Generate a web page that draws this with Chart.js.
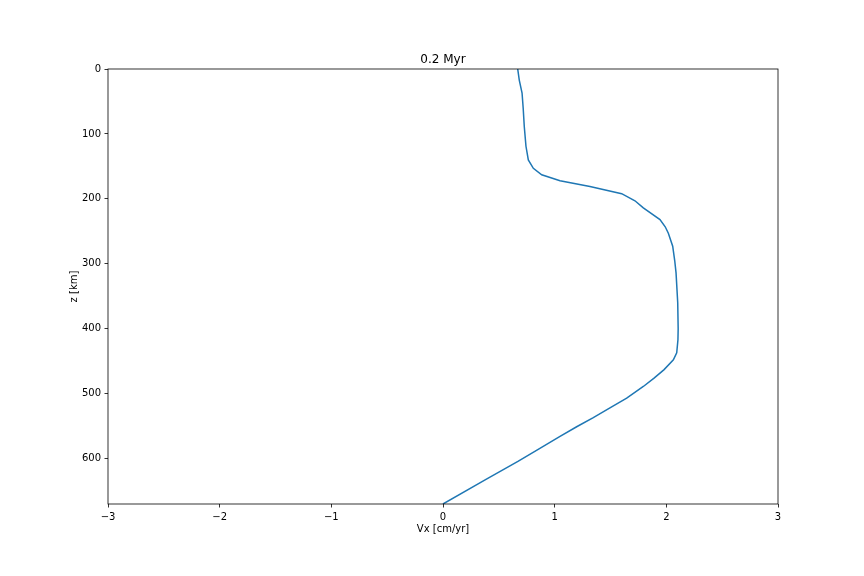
<!DOCTYPE html>
<html>
<head>
<meta charset="utf-8">
<script src="https://cdn.jsdelivr.net/npm/chart.js@4"></script>
<style>
  html, body { margin: 0; padding: 0; background: #fff; }
  #wrap { width: 864px; height: 576px; }
</style>
</head>
<body>
<div id="wrap"><canvas id="Chart" width="864" height="576"></canvas></div>
<script>
// depth profile of horizontal velocity
const depthKm = [0, 17, 37, 60, 89, 119, 140, 153, 163, 172, 181, 192, 203, 214, 232, 243,
  253, 273, 295, 314, 360, 400, 417, 437, 448, 463, 476, 489, 507, 522, 537, 551, 566, 585,
  604, 632, 670];
const vxCmYr = [0.669, 0.683, 0.708, 0.718, 0.728, 0.743, 0.764, 0.809, 0.884, 1.048, 1.316,
  1.600, 1.719, 1.794, 1.943, 1.990, 2.018, 2.057, 2.075, 2.087, 2.102, 2.106, 2.104, 2.093,
  2.063, 1.980, 1.890, 1.794, 1.645, 1.495, 1.346, 1.197, 1.048, 0.860, 0.675, 0.385, 0.0];
const xTicks = [-3, -2, -1, 0, 1, 2, 3];
const yTicks = [0, 100, 200, 300, 400, 500, 600];
const titleText = '0.2 Myr';

const ctx = document.getElementById('Chart').getContext('2d');
Chart.defaults.font.family = '"DejaVu Sans", sans-serif';
Chart.defaults.color = '#000';

// matplotlib-style frame and axes title
const frame = {
  id: 'frame',
  afterDraw(chart) {
    const a = chart.chartArea;
    const c = chart.ctx;
    c.save();
    c.strokeStyle = '#000';
    c.lineWidth = 0.8;
    c.strokeRect(a.left, a.top, a.right - a.left, a.bottom - a.top);
    c.fillStyle = '#000';
    c.font = '12px "DejaVu Sans", sans-serif';
    c.textAlign = 'center';
    c.textBaseline = 'alphabetic';
    c.fillText(titleText, (a.left + a.right) / 2, a.top - 6);
    c.restore();
  }
};

const points = depthKm.map((z, i) => ({ x: vxCmYr[i], y: z }));

const chart = new Chart(ctx, {
  type: 'scatter',
  data: {
    datasets: [{
      data: points,
      showLine: true,
      borderColor: '#1f77b4',
      borderWidth: 1.5,
      pointRadius: 0,
      tension: 0
    }]
  },
  options: {
    responsive: false,
    animation: false,
    devicePixelRatio: 1,
    layout: { padding: { left: 0, right: 86, top: 69, bottom: 0 } },
    plugins: {
      legend: { display: false },
      tooltip: { enabled: false },
      title: { display: false }
    },
    scales: {
      x: {
        type: 'linear',
        min: -3,
        max: 3,
        afterBuildTicks: s => { s.ticks = xTicks.map(v => ({ value: v })); },
        afterFit: s => { s.height = 72; },
        ticks: { font: { size: 10 }, padding: 3.5, maxRotation: 0,
          callback: v => v < 0 ? '\u2212' + Math.abs(v) : String(v) },
        grid: { drawOnChartArea: false, tickLength: 3.5, color: '#000', tickWidth: 0.8 },
        border: { display: false },
        title: { display: true, text: 'Vx [cm/yr]', font: { size: 10 }, padding: { top: 0, bottom: 41 } }
      },
      y: {
        type: 'linear',
        reverse: true,
        min: 0,
        max: 670,
        afterBuildTicks: s => { s.ticks = yTicks.map(v => ({ value: v })); },
        afterFit: s => { s.width = 108; },
        ticks: { font: { size: 10 }, padding: 3.5 },
        grid: { drawOnChartArea: false, tickLength: 3.5, color: '#000', tickWidth: 0.8 },
        border: { display: false },
        title: { display: true, text: 'z [km]', font: { size: 10 }, padding: { top: 68, bottom: 0 } }
      }
    }
  },
  plugins: [frame]
});
</script>
</body>
</html>
